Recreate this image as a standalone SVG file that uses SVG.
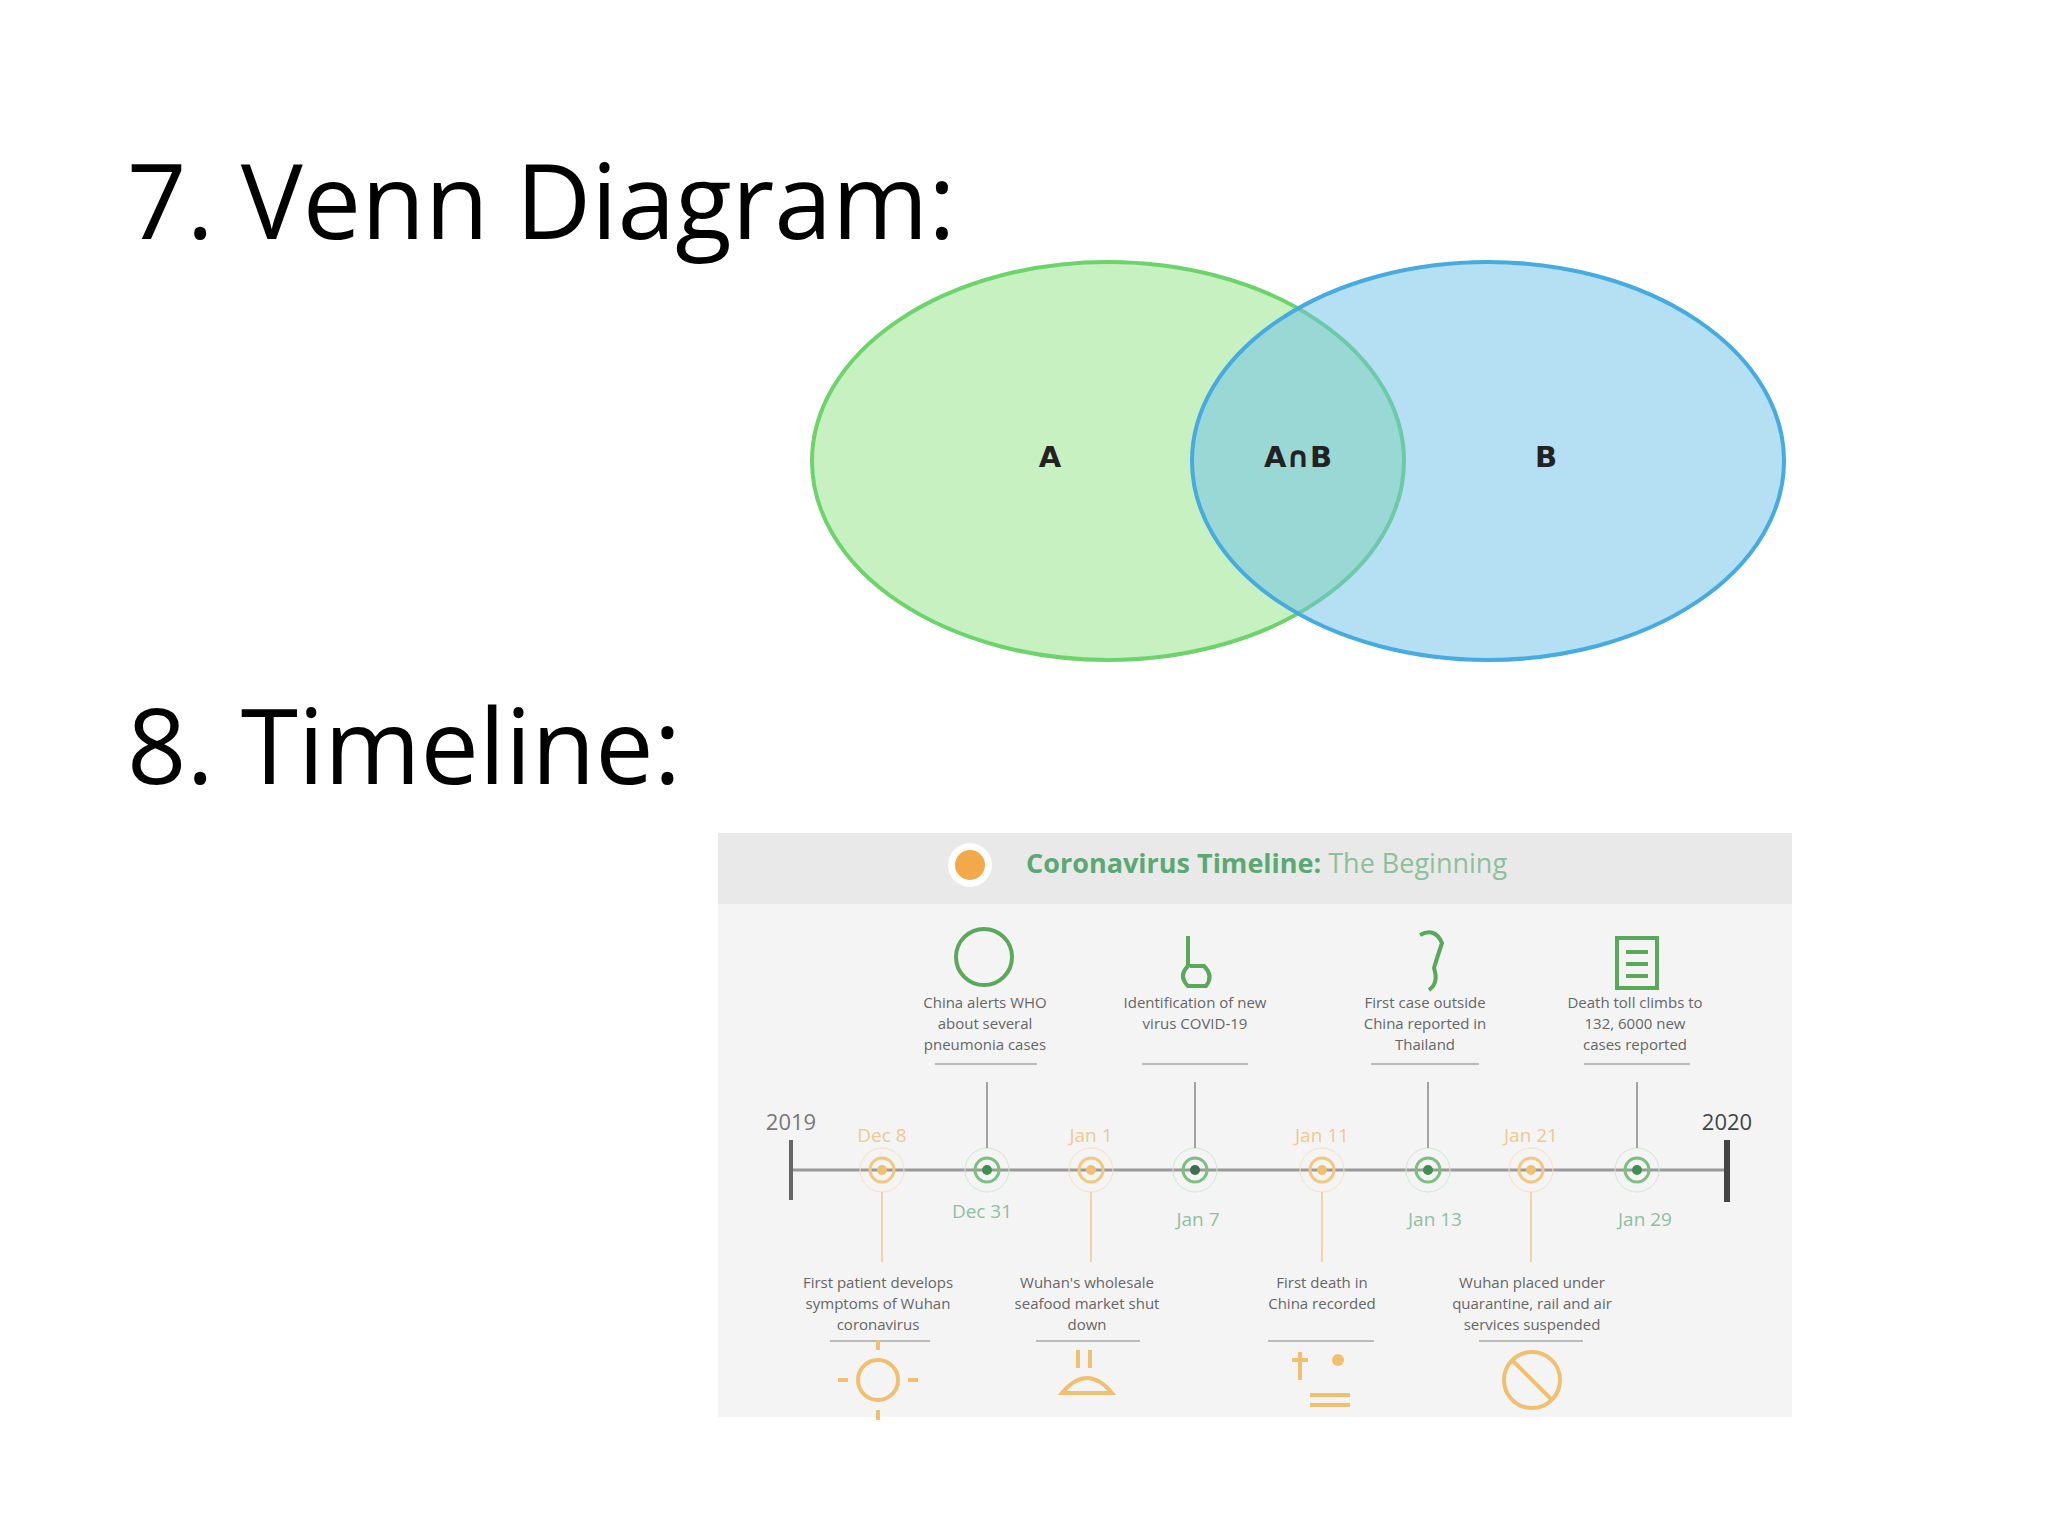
<svg xmlns="http://www.w3.org/2000/svg" width="2048" height="1536" viewBox="0 0 2048 1536">
<style>
.h{font-family:"Open Sans","Noto Sans",sans-serif;font-size:104px;fill:#000}
.v{font-family:"DejaVu Sans",sans-serif;font-weight:bold;font-size:29px;fill:#222;text-anchor:middle}
.t{font-family:"Open Sans",sans-serif;font-size:15px;fill:#666;text-anchor:middle}
.do{font-family:"Open Sans",sans-serif;font-size:19px;fill:#f0c890;text-anchor:middle}
.dg{font-family:"Open Sans",sans-serif;font-size:19px;fill:#8fbf9f;text-anchor:middle}
.ul{stroke:#bbb;stroke-width:2}
.vg{stroke:#888;stroke-width:1.5}
.vo{stroke:#f0c890;stroke-width:1.5}
.ig{fill:none;stroke:#5aa85a;stroke-width:4}
.io{fill:none;stroke:#f0c070;stroke-width:4}
</style>
<rect width="2048" height="1536" fill="#fff"/>
<text class="h" x="127" y="239">7. Venn Diagram:</text>
<g id="setA"><ellipse cx="1108" cy="461" rx="296" ry="199" fill="#9be68f" fill-opacity="0.55" stroke="#6dd36b" stroke-width="4"/></g>
<g id="setB"><ellipse cx="1488" cy="461" rx="296" ry="199" fill="#6cbfe8" fill-opacity="0.5" stroke="#45abe0" stroke-width="4"/></g>
<path d="M1404 461 A296 199 0 0 1 1192 270" fill="none" stroke="#6dd36b" stroke-width="0"/>
<text class="v" x="1050" y="467">A</text>
<text class="v" x="1298" y="467">A∩B</text>
<text class="v" x="1546" y="467">B</text>
<text class="h" x="127" y="784">8. Timeline:</text>
<g id="timeline">
<rect x="718" y="833" width="1074" height="584" fill="#f4f4f4"/>
<rect x="718" y="833" width="1074" height="71" fill="#e9e9e9"/>
<circle cx="970" cy="865" r="22" fill="#fff"/><circle cx="970" cy="865" r="15" fill="#f2a94a"/>
<text x="1026" y="873" font-family="Open Sans,sans-serif" font-size="27" font-weight="bold" fill="#5aa873">Coronavirus Timeline: <tspan font-weight="normal" fill="#8cc09a">The Beginning</tspan></text>
<line x1="791" y1="1170" x2="1727" y2="1170" stroke="#999" stroke-width="3"/>
<line x1="791" y1="1140" x2="791" y2="1200" stroke="#666" stroke-width="4"/>
<line x1="1727" y1="1140" x2="1727" y2="1202" stroke="#444" stroke-width="6"/>
<text x="791" y="1130" font-family="Open Sans,sans-serif" font-size="22" fill="#777" text-anchor="middle">2019</text>
<text x="1727" y="1130" font-family="Open Sans,sans-serif" font-size="22" fill="#444" text-anchor="middle">2020</text>
<g fill="none">
<circle cx="882" cy="1170" r="22" stroke="#f6e0c0"/><circle cx="882" cy="1170" r="12" stroke="#f2c880" stroke-width="3"/><circle cx="882" cy="1170" r="5" fill="#f0c070"/>
<circle cx="1091" cy="1170" r="22" stroke="#f6e0c0"/><circle cx="1091" cy="1170" r="12" stroke="#f2c880" stroke-width="3"/><circle cx="1091" cy="1170" r="5" fill="#f0c070"/>
<circle cx="1322" cy="1170" r="22" stroke="#f6e0c0"/><circle cx="1322" cy="1170" r="12" stroke="#f2c880" stroke-width="3"/><circle cx="1322" cy="1170" r="5" fill="#f0c070"/>
<circle cx="1531" cy="1170" r="22" stroke="#f6e0c0"/><circle cx="1531" cy="1170" r="12" stroke="#f2c880" stroke-width="3"/><circle cx="1531" cy="1170" r="5" fill="#f0c070"/>
<circle cx="987" cy="1170" r="22" stroke="#cfe8d0"/><circle cx="987" cy="1170" r="12" stroke="#7cc080" stroke-width="3"/><circle cx="987" cy="1170" r="5" fill="#3f8f50"/>
<circle cx="1195" cy="1170" r="22" stroke="#cfe8d0"/><circle cx="1195" cy="1170" r="12" stroke="#7cc080" stroke-width="3"/><circle cx="1195" cy="1170" r="5" fill="#3f6f50"/>
<circle cx="1428" cy="1170" r="22" stroke="#cfe8d0"/><circle cx="1428" cy="1170" r="12" stroke="#7cc080" stroke-width="3"/><circle cx="1428" cy="1170" r="5" fill="#3f8f50"/>
<circle cx="1637" cy="1170" r="22" stroke="#cfe8d0"/><circle cx="1637" cy="1170" r="12" stroke="#7cc080" stroke-width="3"/><circle cx="1637" cy="1170" r="5" fill="#3f8f50"/>
</g>
<text class="do" x="882" y="1142">Dec 8</text><text class="do" x="1091" y="1142">Jan 1</text><text class="do" x="1322" y="1142">Jan 11</text><text class="do" x="1531" y="1142">Jan 21</text>
<text class="dg" x="982" y="1218">Dec 31</text><text class="dg" x="1198" y="1226">Jan 7</text><text class="dg" x="1435" y="1226">Jan 13</text><text class="dg" x="1645" y="1226">Jan 29</text>
<g>
<line class="vg" x1="987" y1="1082" x2="987" y2="1148"/><line class="vg" x1="1195" y1="1082" x2="1195" y2="1148"/><line class="vg" x1="1428" y1="1082" x2="1428" y2="1148"/><line class="vg" x1="1637" y1="1082" x2="1637" y2="1148"/>
<line class="vo" x1="882" y1="1192" x2="882" y2="1262"/><line class="vo" x1="1091" y1="1192" x2="1091" y2="1262"/><line class="vo" x1="1322" y1="1192" x2="1322" y2="1262"/><line class="vo" x1="1531" y1="1192" x2="1531" y2="1262"/>
<line class="ul" x1="935" y1="1064" x2="1037" y2="1064"/><line class="ul" x1="1142" y1="1064" x2="1248" y2="1064"/><line class="ul" x1="1371" y1="1064" x2="1479" y2="1064"/><line class="ul" x1="1584" y1="1064" x2="1690" y2="1064"/>
<line class="ul" x1="830" y1="1341" x2="930" y2="1341"/><line class="ul" x1="1036" y1="1341" x2="1140" y2="1341"/><line class="ul" x1="1268" y1="1341" x2="1374" y2="1341"/><line class="ul" x1="1479" y1="1341" x2="1583" y2="1341"/>
</g>
<text class="t" x="985" y="1008">China alerts WHO<tspan x="985" dy="21">about several</tspan><tspan x="985" dy="21">pneumonia cases</tspan></text>
<text class="t" x="1195" y="1008">Identification of new<tspan x="1195" dy="21">virus COVID-19</tspan></text>
<text class="t" x="1425" y="1008">First case outside<tspan x="1425" dy="21">China reported in</tspan><tspan x="1425" dy="21">Thailand</tspan></text>
<text class="t" x="1635" y="1008">Death toll climbs to<tspan x="1635" dy="21">132, 6000 new</tspan><tspan x="1635" dy="21">cases reported</tspan></text>
<text class="t" x="878" y="1288">First patient develops<tspan x="878" dy="21">symptoms of Wuhan</tspan><tspan x="878" dy="21">coronavirus</tspan></text>
<text class="t" x="1087" y="1288">Wuhan's wholesale<tspan x="1087" dy="21">seafood market shut</tspan><tspan x="1087" dy="21">down</tspan></text>
<text class="t" x="1322" y="1288">First death in<tspan x="1322" dy="21">China recorded</tspan></text>
<text class="t" x="1532" y="1288">Wuhan placed under<tspan x="1532" dy="21">quarantine, rail and air</tspan><tspan x="1532" dy="21">services suspended</tspan></text>
<circle class="ig" cx="984" cy="957" r="28"/>
<path class="ig" d="M1188 936 v30 q-10 10 0 20 h18 q8 -10 -2 -20 h-14"/>
<path class="ig" d="M1420 935 q15 -8 22 8 q-5 15 -8 25 q5 15 -5 22"/>
<rect class="ig" x="1617" y="938" width="40" height="50"/><path class="ig" d="M1626 952h22M1626 964h22M1626 976h22"/>
<circle class="io" cx="878" cy="1380" r="20"/><path class="io" d="M848 1380h-10M918 1380h-10M878 1350v-10M878 1420v-10"/>
<path class="io" d="M1062 1393 q25 -30 50 0 z M1078 1350v18M1090 1350v18"/>
<path class="io" d="M1300 1352v28M1292 1360h16M1310 1395h40M1310 1405h40"/><circle cx="1338" cy="1360" r="6" fill="#f0c070"/>
<circle class="io" cx="1532" cy="1380" r="28"/><path class="io" d="M1512 1360l40 40"/>
</g>
</svg>
